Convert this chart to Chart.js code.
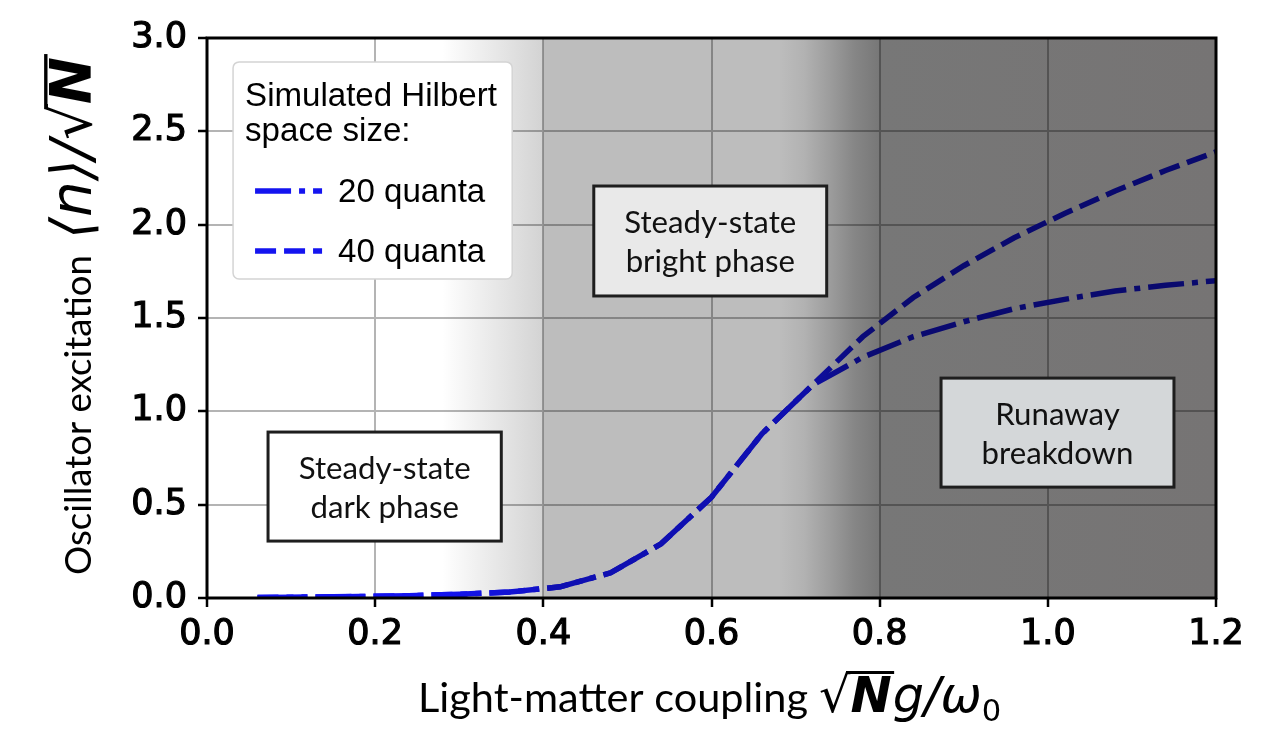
<!DOCTYPE html>
<html><head><meta charset="utf-8">
<script src="https://cdn.jsdelivr.net/npm/chart.js@4.4.0/dist/chart.umd.min.js"></script>
<style>html,body{margin:0;padding:0;background:#fff;overflow:hidden}#wrap{width:1283px;height:749px}</style>
</head><body><div id="wrap"><canvas id="c" width="1283" height="749"></canvas></div>
<script>
// ---- data ----
const couplingValues = [0.06,0.12,0.18,0.24,0.30,0.36,0.42,0.48,0.54,0.60,0.66,0.72,0.78,0.84,0.90,0.96,1.02,1.08,1.14,1.20];
const quanta20 = [0.003,0.005,0.008,0.012,0.02,0.032,0.06,0.135,0.29,0.54,0.88,1.14,1.29,1.40,1.48,1.55,1.60,1.645,1.675,1.70];
const quanta40 = [0.003,0.005,0.008,0.012,0.02,0.032,0.06,0.135,0.29,0.54,0.88,1.14,1.40,1.61,1.78,1.93,2.06,2.18,2.29,2.39];
const seriesLabels = ['20 quanta','40 quanta'];
const xTickValues = [0,0.2,0.4,0.6,0.8,1.0,1.2];
const yTickValues = [0,0.5,1.0,1.5,2.0,2.5,3.0];
const legendTitle = ['Simulated Hilbert','space size:'];
const regionLabels = [['Steady-state','dark phase'],['Steady-state','bright phase'],['Runaway','breakdown']];
const xTitleText = 'Light-matter coupling';
const yTitleText = 'Oscillator excitation';

// ---- styles / layout ----
const lineColor = '#1414f0';
const dashes = [[36,8,6,8],[21,8]];
const shadeStops = [[0,'#ffffff'],[0.28,'#ffffff'],[0.399,'#d3d3d3'],[0.401,'#bdbdbd'],[0.68,'#bdbdbd'],[0.71,'#b2b2b2'],[0.74,'#9d9d9d'],[0.77,'#868686'],[0.80,'#777777'],[1.2,'#767474']];
const regionBoxes = [
  {x0:0.0726,x1:0.350,y0:0.889,y1:0.305,fill:'#ffffff'},
  {x0:0.460,x1:0.737,y0:2.207,y1:1.618,fill:'#e9e9e9'},
  {x0:0.873,x1:1.150,y0:1.178,y1:0.594,fill:'#d4d7d9'}
];
const legendBox = {x0:0.031,x1:0.363,y0:2.872,y1:1.709};

const TEXT_FONT = 'Lato, "Open Sans", sans-serif';
const MATH_FONT = '"DejaVu Sans", sans-serif';

function fitSize(ctx, text, weight, family, target){
  ctx.font = weight + ' 100px ' + family;
  return 100 * target / ctx.measureText(text).width;
}
function runWidth(ctx, parts, base){
  let w = 0;
  for (const p of parts){ ctx.font = p.style + ' ' + (base*p.rel) + 'px ' + MATH_FONT; w += ctx.measureText(p.t).width + (p.kern||0)*base; }
  return w;
}
function drawRun(ctx, parts, base, x, y){
  let cx = x, radStart = null, radW = 0;
  for (const p of parts){
    const s = base*p.rel;
    ctx.font = p.style + ' ' + s + 'px ' + MATH_FONT;
    const w = ctx.measureText(p.t).width;
    ctx.fillText(p.t, cx, y + (p.dy||0)*base);
    if (p.rad){ radStart = cx; radW = w; }
    if (p.over && radStart !== null){
      ctx.save(); ctx.lineWidth = base*0.06; ctx.beginPath();
      const oy = y - base*0.80;
      ctx.moveTo(radStart + radW*0.86, oy); ctx.lineTo(cx + w + base*0.05, oy); ctx.stroke(); ctx.restore();
    }
    cx += w + (p.kern||0)*base;
  }
  return cx;
}

const overlayPlugin = {
  id:'overlay',
  afterDatasetsDraw(chart){
    const {ctx, chartArea:a, scales:{x}} = chart;
    ctx.save();
    ctx.beginPath(); ctx.rect(a.left, a.top, a.width, a.height); ctx.clip();
    const x0 = x.getPixelForValue(0), x1 = x.getPixelForValue(1.2);
    const g = ctx.createLinearGradient(x0,0,x1,0);
    for (const [v,c] of shadeStops) g.addColorStop(v/1.2, c);
    ctx.globalCompositeOperation = 'multiply';
    ctx.fillStyle = g;
    ctx.fillRect(a.left, a.top, a.width, a.height);
    ctx.restore();
  },
  afterDraw(chart){
    const {ctx, chartArea:a, scales:{x, y}} = chart;
    ctx.save();
    // region boxes
    const boxSize = fitSize(ctx, 'Steady-state', '', TEXT_FONT, 172);
    regionBoxes.forEach((b,i)=>{
      const L = x.getPixelForValue(b.x0), R = x.getPixelForValue(b.x1);
      const T = y.getPixelForValue(b.y0), B = y.getPixelForValue(b.y1);
      ctx.fillStyle = b.fill; ctx.fillRect(L,T,R-L,B-T);
      ctx.strokeStyle = '#1e1e1e'; ctx.lineWidth = 3; ctx.strokeRect(L,T,R-L,B-T);
      ctx.fillStyle = '#111'; ctx.font = boxSize + 'px ' + TEXT_FONT;
      ctx.textAlign = 'center'; ctx.textBaseline = 'alphabetic';
      const cx = (L+R)/2, cy = (T+B)/2;
      ctx.fillText(regionLabels[i][0], cx, cy - 8);
      ctx.fillText(regionLabels[i][1], cx, cy + 31);
    });
    // legend
    {
      const L = x.getPixelForValue(legendBox.x0), R = x.getPixelForValue(legendBox.x1);
      const T = y.getPixelForValue(legendBox.y0), B = y.getPixelForValue(legendBox.y1);
      ctx.fillStyle = '#ffffff'; ctx.strokeStyle = '#d4d4d4'; ctx.lineWidth = 1.5;
      ctx.beginPath(); ctx.roundRect(L,T,R-L,B-T,6); ctx.fill(); ctx.stroke();
      const lf = '"Liberation Sans", Arial, sans-serif';
      const ls = fitSize(ctx, legendTitle[0], '', lf, 252);
      ctx.fillStyle = '#000'; ctx.font = ls + 'px ' + lf; ctx.textAlign = 'left'; ctx.textBaseline = 'alphabetic';
      ctx.fillText(legendTitle[0], L+12, T+44);
      ctx.fillText(legendTitle[1], L+12, T+79);
      for (let i=0;i<2;i++){
        const ly = T + 129 + i*60;
        ctx.save(); ctx.strokeStyle = lineColor; ctx.lineWidth = 5.5; ctx.setLineDash(dashes[i]);
        ctx.beginPath(); ctx.moveTo(L+22, ly); ctx.lineTo(L+89, ly); ctx.stroke(); ctx.restore();
        ctx.fillText(seriesLabels[i], L+105, ly + 11);
      }
    }
    // frame
    ctx.strokeStyle = '#000'; ctx.lineWidth = 3;
    ctx.strokeRect(a.left, a.top, a.width, a.height);

    // x title
    ctx.fillStyle = '#000'; ctx.strokeStyle = '#000'; ctx.textAlign = 'left'; ctx.textBaseline = 'alphabetic';
    const tSize = fitSize(ctx, xTitleText, '', TEXT_FONT, 390);
    ctx.font = tSize + 'px ' + TEXT_FONT;
    ctx.fillText(xTitleText, 418, 712);
    const xMath = [
      {t:'\u221A', style:'', rel:1, rad:true},
      {t:'N', style:'bold italic', rel:1, over:true, kern:0.02},
      {t:'g/\u03C9', style:'italic', rel:1},
      {t:'0', style:'', rel:0.62, dy:0.18}
    ];
    const xmBase = 182 / runWidth(ctx, xMath, 1);
    drawRun(ctx, xMath, xmBase, 819, 712);

    // y title (rotated)
    ctx.save();
    ctx.translate(91, 575); ctx.rotate(-Math.PI/2);
    const ySize = fitSize(ctx, yTitleText, '', TEXT_FONT, 320);
    ctx.font = ySize + 'px ' + TEXT_FONT;
    ctx.fillText(yTitleText, 0, 0);
    const yMath = [
      {t:'\u27E8', style:'italic', rel:1},
      {t:'n', style:'italic', rel:1},
      {t:'\u27E9', style:'italic', rel:1},
      {t:'/', style:'italic', rel:1},
      {t:'\u221A', style:'', rel:1, rad:true},
      {t:'N', style:'bold italic', rel:1, over:true}
    ];
    const ymBase = 198 / runWidth(ctx, yMath, 1) * 0.92;
    drawRun(ctx, yMath, ymBase, 336, 0);
    ctx.restore();
    ctx.restore();
  }
};

const tickFont = {family:'"DejaVu Sans"', size:35, weight:'normal'};
const mk = (arr) => couplingValues.map((v,i)=>({x:v, y:arr[i]}));
new Chart(document.getElementById('c'), {
  type:'line',
  data:{datasets:[
    {label:seriesLabels[1], data:mk(quanta40), borderColor:lineColor, borderWidth:5.5, borderDash:dashes[1], pointRadius:0, tension:0, fill:false, borderCapStyle:'butt'},
    {label:seriesLabels[0], data:mk(quanta20), borderColor:lineColor, borderWidth:5.5, borderDash:dashes[0], pointRadius:0, tension:0, fill:false, borderCapStyle:'butt'}
  ]},
  options:{
    responsive:false, animation:false, devicePixelRatio:1,
    layout:{padding:{top:38,right:67,left:0,bottom:0}},
    plugins:{legend:{display:false}, tooltip:{enabled:false}},
    scales:{
      x:{type:'linear', min:0, max:1.2,
        afterBuildTicks:s=>{s.ticks = xTickValues.map(v=>({value:v}));},
        afterFit:s=>{s.height = 151;},
        ticks:{callback:v=>Number(v).toFixed(1), color:'#000', font:tickFont, textStrokeColor:'#000', textStrokeWidth:1.2, padding:7, maxRotation:0, autoSkip:false},
        grid:{color:'#b4b4b4', lineWidth:2, tickColor:'#000', tickWidth:2.5, tickLength:9},
        border:{display:false}},
      y:{type:'linear', min:0, max:3,
        afterBuildTicks:s=>{s.ticks = yTickValues.map(v=>({value:v}));},
        afterFit:s=>{s.width = 207;},
        ticks:{callback:v=>Number(v).toFixed(1), color:'#000', font:tickFont, textStrokeColor:'#000', textStrokeWidth:1.2, padding:11, autoSkip:false},
        grid:{color:'#b4b4b4', lineWidth:2, tickColor:'#000', tickWidth:2.5, tickLength:9},
        border:{display:false}}
    }
  },
  plugins:[overlayPlugin]
});
</script></body></html>
